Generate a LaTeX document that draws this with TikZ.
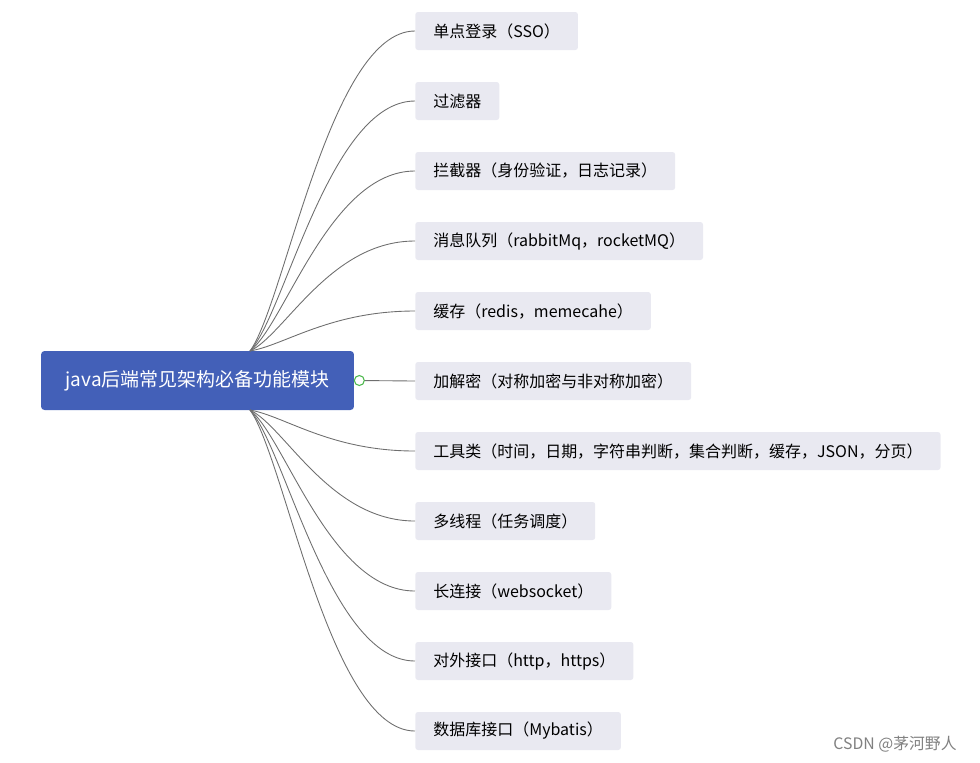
\documentclass[tikz,border=0pt]{standalone}
\usepackage{fontspec}
\setmainfont{Noto Sans CJK SC}
\usepackage{xcolor}
\definecolor{rootblue}{RGB}{67,96,184}
\definecolor{leafgray}{RGB}{233,233,241}
\definecolor{linkgray}{RGB}{110,110,110}
\usetikzlibrary{positioning}

\tikzset{
  root/.style={fill=rootblue, text=white, rounded corners=2pt, minimum width=6.26cm,
    minimum height=1.18cm, font=\fontsize{10.8}{12}\selectfont},
  leaf/.style={fill=leafgray, rounded corners=1.5pt, anchor=west, minimum height=0.76cm,
    inner xsep=0.36cm, font=\fontsize{9.1}{10}\selectfont},
  link/.style={draw=linkgray, line width=0.5pt}
}

\begin{document}
\begin{tikzpicture}[x=0.02cm,y=-0.02cm]
    \useasboundingbox (0,0) rectangle (980,762);
    \node[root] (main) at (197.5,380.5) {java后端常见架构必备功能模块};
    \coordinate (top) at (250,351);
    \coordinate (bot) at (250,410);

    \foreach \i/\txt in {1/单点登录（SSO）, 2/过滤器, 3/拦截器（身份验证，日志记录）,
        4/消息队列（rabbitMq，rocketMQ）, 5/缓存（redis，memecahe）} {
      \node[leaf] (m\i) at (415,{31+70*(\i-1)}) {\txt};
      \draw[link] (top) .. controls (285,{351-0.15*(351-31-70*(\i-1))}) and (330,{31+70*(\i-1)}) .. (m\i.west);
    }

    \node[leaf] (m6) at (415,381) {加解密（对称加密与非对称加密）};
    \draw[link] (main.east) ++(5,0) coordinate (knob) -- (m6.west);
    \draw[draw=green!60!black!70, fill=white, line width=0.6pt] (knob) circle (5);

    \foreach \i/\txt in {7/工具类（时间，日期，字符串判断，集合判断，缓存，JSON，分页）,
        8/多线程（任务调度）, 9/长连接（websocket）, 10/对外接口（http，https）,
        11/数据库接口（Mybatis）} {
      \node[leaf] (m\i) at (415,{31+70*(\i-1)}) {\txt};
      \draw[link] (bot) .. controls (285,{410+0.15*(31+70*(\i-1)-410)}) and (330,{31+70*(\i-1)}) .. (m\i.west);
    }

    \node[text=gray, font=\fontsize{9}{10}\selectfont] (mark) at (895,744) {CSDN @茅河野人};
\end{tikzpicture}
\end{document}
